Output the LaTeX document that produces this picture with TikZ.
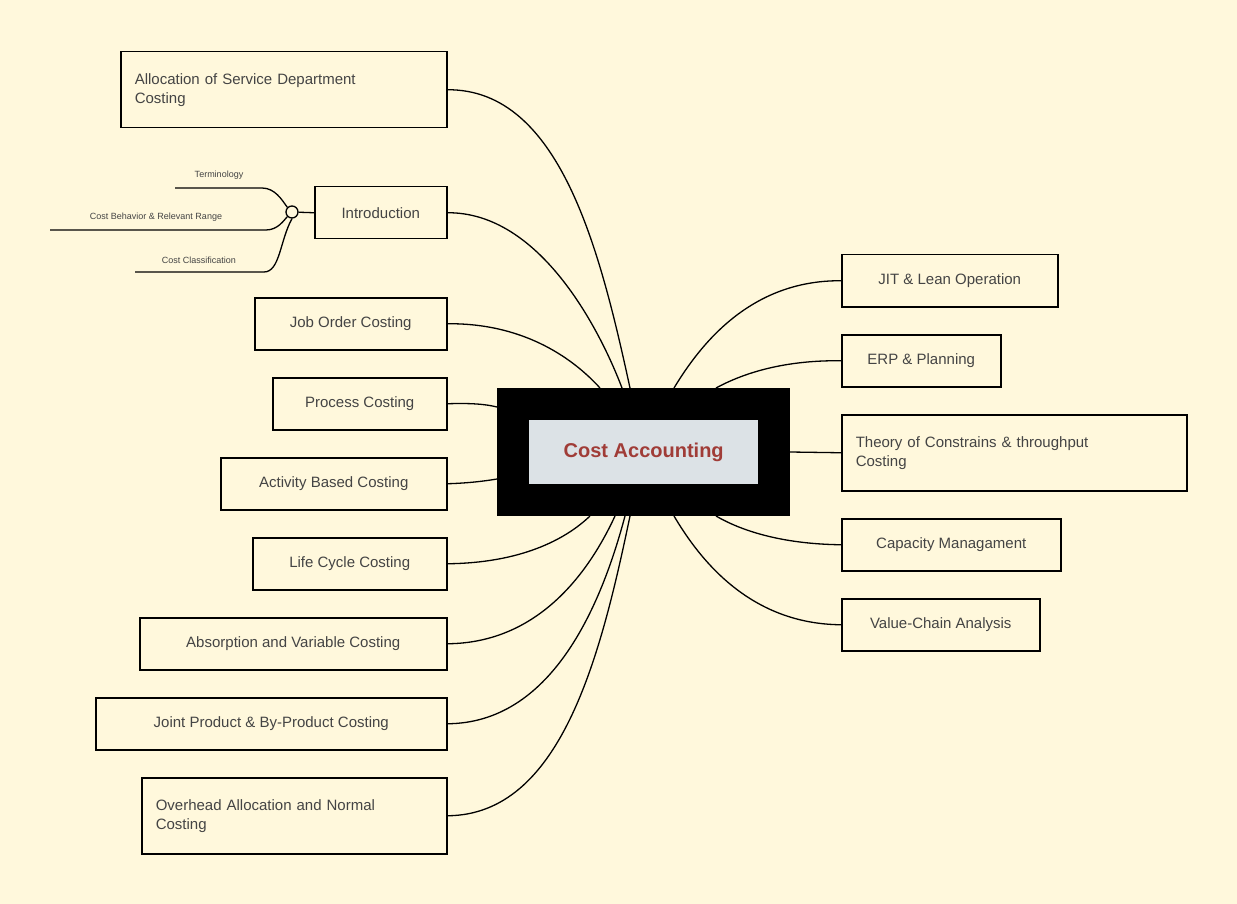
\documentclass[tikz,border=0pt]{standalone}
\usepackage{fontspec}
\setmainfont{Liberation Sans}
\begin{document}
\begin{tikzpicture}[x=1pt,y=-1pt,
  box/.style={draw=black,line width=1.5pt,fill=bgc,anchor=north west,text=txt,font=\fontsize{15}{19}\selectfont,align=left,inner xsep=14pt},
  con/.style={line width=1.3pt},
  small/.style={text=txt,font=\fontsize{9}{10}\selectfont,anchor=south}]
\definecolor{bgc}{RGB}{255,248,220}
\definecolor{txt}{RGB}{68,68,68}
\definecolor{inner}{RGB}{220,226,230}
\definecolor{title}{RGB}{160,60,55}
\fill[bgc] (0,0) rectangle (1237,904);
\useasboundingbox (0,0) rectangle (1237,904);
% center
\fill[black] (497,388) rectangle (790,516);
\node[fill=inner,minimum width=229pt,minimum height=64pt,anchor=north west,text=title,font=\fontsize{20}{24}\selectfont\bfseries] (c) at (529,420) {Cost Accounting};
\coordinate (ctop) at (643,388);
% left nodes
\node[box,minimum width=326pt,minimum height=76pt,text width=298pt] (a1) at (120,51) {Allocation of Service Department\\Costing};
\node[box,minimum width=132pt,minimum height=52pt] (a2) at (314,186) {Introduction};
\node[box,minimum width=192pt,minimum height=52pt] (a3) at (254,297) {Job Order Costing};
\node[box,minimum width=174pt,minimum height=52pt] (a4) at (272,377) {Process Costing};
\node[box,minimum width=226pt,minimum height=52pt] (a5) at (220,457) {Activity Based Costing};
\node[box,minimum width=194pt,minimum height=52pt] (a6) at (252,537) {Life Cycle Costing};
\node[box,minimum width=307pt,minimum height=52pt] (a7) at (139,617) {Absorption and Variable Costing};
\node[box,minimum width=351pt,minimum height=52pt] (a8) at (95,697) {Joint Product \& By-Product Costing};
\node[box,minimum width=305pt,minimum height=76pt,text width=277pt] (a9) at (141,777) {Overhead Allocation and Normal\\Costing};
% right nodes
\node[box,minimum width=216pt,minimum height=52pt] (b1) at (841,254) {JIT \& Lean Operation};
\node[box,minimum width=159pt,minimum height=52pt] (b2) at (841,334) {ERP \& Planning};
\node[box,minimum width=345pt,minimum height=76pt,text width=317pt] (b3) at (841,414) {Theory of Constrains \& throughput\\Costing};
\node[box,minimum width=219pt,minimum height=52pt] (b4) at (841,518) {Capacity Managament};
\node[box,minimum width=198pt,minimum height=52pt] (b5) at (841,598) {Value-Chain Analysis};
% box attach points
\coordinate (p1) at (630,388); \coordinate (p2) at (622,388); \coordinate (p3) at (600,388);
\coordinate (p4) at (497,407); \coordinate (p5) at (497,479);
\coordinate (p6) at (590,516); \coordinate (p7) at (615,516); \coordinate (p8) at (625,516); \coordinate (p9) at (630,516);
\coordinate (q1) at (674,388); \coordinate (q2) at (716,388); \coordinate (q3) at (790,452);
\coordinate (q4) at (716,516); \coordinate (q5) at (674,516);
\draw[con] (a1.east) .. controls (560,89) and (600,250) .. (p1);
\draw[con] (a2.east) .. controls (540,212) and (600,330) .. (p2);
\draw[con] (a3.east) .. controls (520,323) and (570,355) .. (p3);
\draw[con] (a4.east) .. controls (470,403) and (485,404) .. (p4);
\draw[con] (a5.east) .. controls (470,483) and (485,481) .. (p5);
\draw[con] (a6.east) .. controls (520,563) and (565,540) .. (p6);
\draw[con] (a7.east) .. controls (540,643) and (590,570) .. (p7);
\draw[con] (a8.east) .. controls (550,723) and (600,610) .. (p8);
\draw[con] (a9.east) .. controls (560,815) and (600,660) .. (p9);
\draw[con] (b1.west) .. controls (750,280) and (700,345) .. (q1);
\draw[con] (b2.west) .. controls (780,360) and (740,375) .. (q2);
\draw[con] (q3) -- (b3.west);
\draw[con] (b4.west) .. controls (780,544) and (740,530) .. (q4);
\draw[con] (b5.west) .. controls (750,624) and (700,560) .. (q5);
% intro subtree
\node[draw,line width=1.3pt,circle,inner sep=0pt,minimum size=12pt,fill=bgc] (hub) at (292,212) {};
\draw[con] (hub) -- (a2.west);
\coordinate (t1) at (175,188); \coordinate (t2) at (50,230); \coordinate (t3) at (135,272);
\draw[con] (t1) -- (262,188) .. controls (275,188) and (282,200) .. (hub.north west);
\draw[con] (t2) -- (266,230) .. controls (278,230) and (284,220) .. (hub.south west);
\draw[con] (t3) -- (264,272) .. controls (280,272) and (280,240) .. (hub.south);
\node[small] (l1) at (219,183) {Terminology};
\node[small] (l2) at (156,225) {Cost Behavior \& Relevant Range};
\node[small] (l3) at (199,267) {Cost Classification};
\end{tikzpicture}
\end{document}
